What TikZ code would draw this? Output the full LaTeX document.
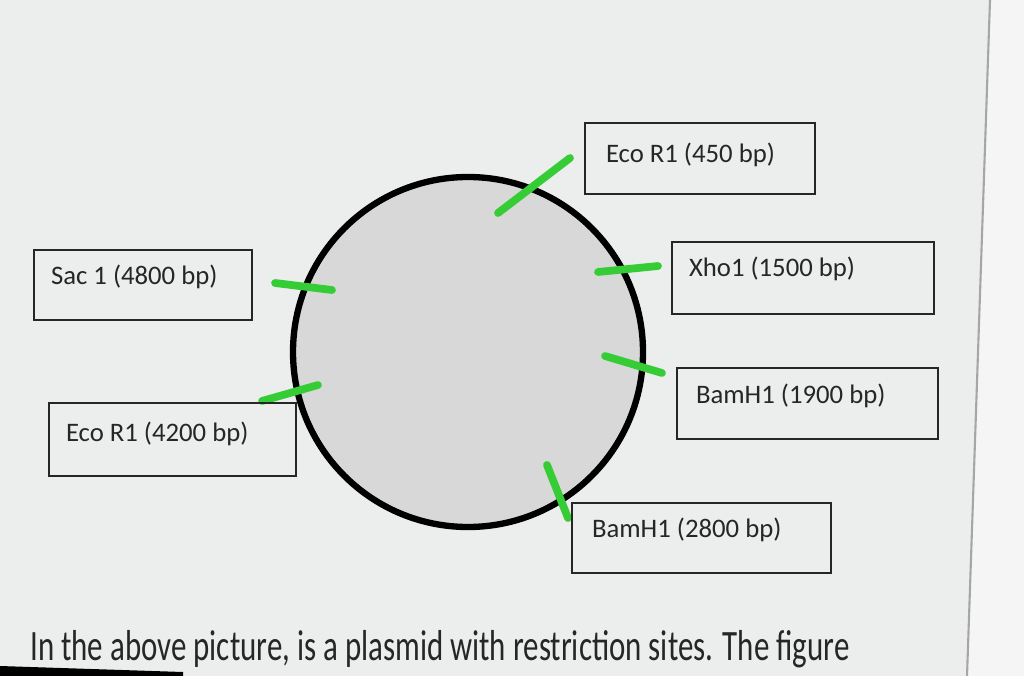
\documentclass[tikz,border=0pt]{standalone}
\usepackage{fontspec}
\setmainfont{Carlito}
\usepackage{graphicx}
\usetikzlibrary{calc}

\definecolor{screen}{HTML}{ECEDED}
\definecolor{plasmid}{HTML}{D8D8D8}
\definecolor{cut}{HTML}{36CC36}
\definecolor{ink}{HTML}{262626}
\newlength{\pxu}
\setlength{\pxu}{0.025cm}

\tikzset{
  sitebox/.style={draw=ink, line width=1.8pt, inner sep=0pt},
  sitelabel/.style={anchor=west, inner sep=0pt, text=ink, font=\fontsize{19}{22}\selectfont},
  cutmark/.style={draw=cut, line width=5.5pt, line cap=round}
}

\begin{document}
\begin{tikzpicture}[x=0.025cm,y=-0.025cm]
\useasboundingbox (0,0) rectangle (1024,676);
\fill[screen] (0,0) rectangle (1024,676);
\fill[black!4] (990,0)--(1024,0)--(1024,676)--(967,676)--cycle;
\draw[black!35, line width=1.5pt] (990,0)--(967,676);
\fill[black] (0,666)--(183,672)--(183,676)--(0,676)--cycle;

% plasmid
\coordinate (c) at (468,352);
\draw[fill=plasmid, line width=4.5pt] (c) circle[radius=175];

% restriction sites
\coordinate (s_eco1) at (498,213);
\coordinate (s_xho) at (598,272);
\coordinate (s_bam1) at (605,356);
\coordinate (s_bam2) at (547,465);
\coordinate (s_sac) at (275,283);
\coordinate (s_eco2) at (262,401);

\draw[cutmark] (s_eco1)--+(72,-55);
\draw[cutmark] (s_xho)--+(60,-6);
\draw[cutmark] (s_bam1)--+(57,17);
\draw[cutmark] (s_bam2)--+(21,53);
\draw[cutmark] (s_sac)--+(57,7);
\draw[cutmark] (s_eco2)--+(56,-16);

% boxes
\node[sitebox, minimum width=230\pxu, minimum height=71\pxu] (b_eco1) at (700,158.5) {};
\node[sitebox, minimum width=262\pxu, minimum height=72\pxu] (b_xho) at (803,278) {};
\node[sitebox, minimum width=261\pxu, minimum height=71\pxu] (b_bam1) at (807.5,403.5) {};
\node[sitebox, minimum width=259\pxu, minimum height=70\pxu] (b_bam2) at (701.5,538) {};
\node[sitebox, minimum width=218\pxu, minimum height=70\pxu] (b_sac) at (143,285) {};
\node[sitebox, minimum width=247\pxu, minimum height=73\pxu] (b_eco2) at (172.5,439.5) {};

\node[sitelabel] (l_eco1) at ($(b_eco1.west)+(22,-4)$) {Eco R1 (450 bp)};
\node[sitelabel] (l_xho) at ($(b_xho.west)+(18,-9)$) {Xho1 (1500 bp)};
\node[sitelabel] (l_bam1) at ($(b_bam1.west)+(20,-8)$) {BamH1 (1900 bp)};
\node[sitelabel] (l_bam2) at ($(b_bam2.west)+(21,-8)$) {BamH1 (2800 bp)};
\node[sitelabel] (l_sac) at ($(b_sac.west)+(18,-8)$) {Sac 1 (4800 bp)};
\node[sitelabel] (l_eco2) at ($(b_eco2.west)+(18,-6)$) {Eco R1 (4200 bp)};

% caption
\node[anchor=base west, inner sep=0pt, text=ink, font=\fontsize{22}{26}\selectfont] (caption) at (30,660)
  {\scalebox{1}[1.4]{In the above picture, is a plasmid with restriction sites. The figure}};
\end{tikzpicture}
\end{document}
